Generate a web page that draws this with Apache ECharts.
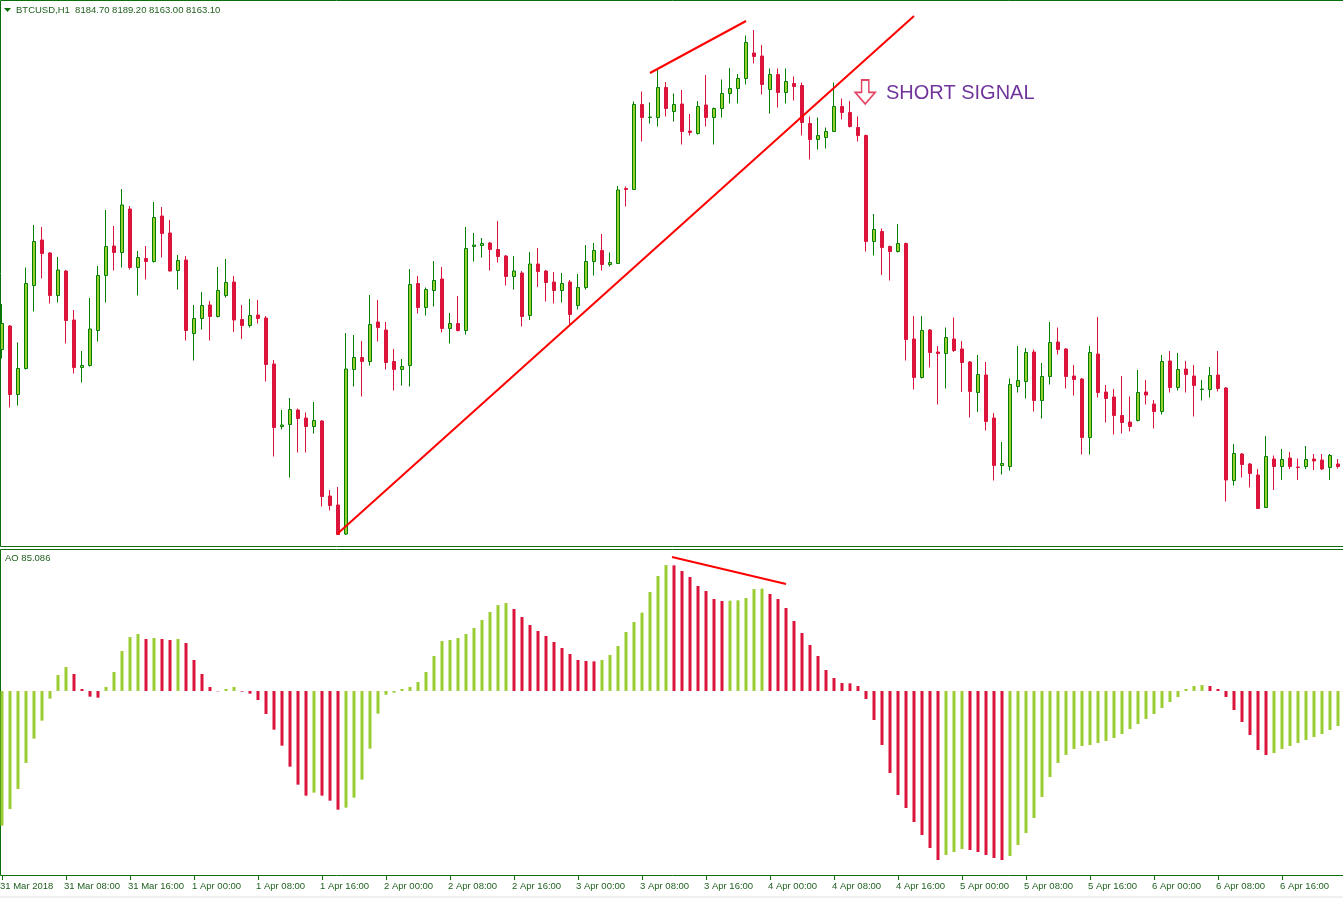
<!DOCTYPE html>
<html>
<head>
<meta charset="utf-8">
<title>BTCUSD,H1 - AO</title>
<script src="https://cdn.jsdelivr.net/npm/echarts@6/dist/echarts.min.js"></script>
<style>
    html, body { margin: 0; padding: 0; background: #fff; }
    #chart { width: 1343px; height: 898px; }
</style>
</head>
<body>
<div id="chart"></div>
<script>
// hourly bars, 31 Mar 2018 00:00 .. 6 Apr 2018 23:00
const tickLabels = ['31 Mar 2018', '31 Mar 08:00', '31 Mar 16:00', '1 Apr 00:00', '1 Apr 08:00', '1 Apr 16:00',
    '2 Apr 00:00', '2 Apr 08:00', '2 Apr 16:00', '3 Apr 00:00', '3 Apr 08:00', '3 Apr 16:00',
    '4 Apr 00:00', '4 Apr 08:00', '4 Apr 16:00', '5 Apr 00:00', '5 Apr 08:00', '5 Apr 16:00',
    '6 Apr 00:00', '6 Apr 08:00', '6 Apr 16:00']

const opens = [6881, 6928, 6791, 6843, 7009, 7100, 7074, 6989, 7038, 6940,
    6845, 6849, 6919, 7029, 7088, 7075, 7162, 7045, 7063, 7057,
    7148, 7114, 7039, 7060, 6913, 6943, 6970, 6947, 6989, 7016,
    6941, 6929, 6950, 6944, 6852, 6727, 6731, 6760, 6744, 6727,
    6738, 6588, 6570, 6512, 6841, 6865, 6857, 6936, 6920, 6857,
    6841, 6849, 7013, 6965, 6999, 7022, 6923, 6933, 6919, 7087,
    7089, 7094, 7081, 7068, 7027, 7034, 6949, 7052, 7038, 7016,
    6999, 7016, 6969, 7005, 7057, 7079, 7051, 7053, 7203, 7201,
    7371, 7345, 7345, 7405, 7357, 7372, 7318, 7313, 7370, 7345,
    7363, 7393, 7403, 7423, 7474, 7468, 7401, 7431, 7395, 7413,
    7409, 7333, 7301, 7305, 7317, 7367, 7355, 7325, 7309, 7097,
    7117, 7087, 7077, 7093, 6902, 6825, 6920, 6876, 6873, 6902,
    6882, 6856, 6795, 6830, 6744, 6649, 6647, 6807, 6817, 6876,
    6779, 6827, 6896, 6882, 6828, 6822, 6705, 6872, 6796, 6786,
    6749, 6736, 6739, 6796, 6772, 6757, 6858, 6805, 6842, 6828,
    6801, 6801, 6830, 6804, 6619, 6672, 6652, 6630, 6565, 6662,
    6647, 6664, 6646, 6647, 6662, 6660, 6645, 6652]
const closes = [6933, 6791, 6843, 7013, 7097, 7073, 6989, 7040, 6939, 6845,
    6849, 6922, 7029, 7087, 7075, 7170, 7045, 7065, 7057, 7145,
    7113, 7038, 7059, 6919, 6943, 6969, 6947, 6999, 7015, 6940,
    6929, 6949, 6943, 6851, 6725, 6730, 6761, 6743, 6727, 6739,
    6587, 6569, 6511, 6842, 6865, 6857, 6931, 6925, 6855, 6841,
    6847, 7011, 6965, 7001, 7019, 6923, 6933, 6919, 7083, 7090,
    7093, 7081, 7067, 7027, 7038, 6947, 7052, 7037, 7015, 6999,
    7013, 6951, 7005, 7057, 7079, 7051, 7055, 7200, 7201, 7371,
    7345, 7346, 7405, 7363, 7371, 7317, 7315, 7367, 7345, 7363,
    7393, 7403, 7423, 7495, 7467, 7411, 7431, 7395, 7417, 7407,
    7335, 7301, 7309, 7317, 7367, 7355, 7327, 7309, 7097, 7121,
    7085, 7077, 7093, 6901, 6825, 6919, 6875, 6873, 6905, 6879,
    6855, 6797, 6831, 6737, 6649, 6653, 6811, 6819, 6875, 6779,
    6827, 6895, 6881, 6827, 6821, 6705, 6875, 6795, 6783, 6749,
    6735, 6727, 6795, 6790, 6757, 6857, 6805, 6841, 6831, 6809,
    6802, 6829, 6803, 6620, 6673, 6651, 6633, 6563, 6667, 6647,
    6661, 6647, 6645, 6661, 6658, 6642, 6669, 6647]
const lows = [6863, 6765, 6769, 6841, 6957, 7023, 6973, 6975, 6893, 6833,
    6815, 6847, 6897, 6975, 7039, 7045, 7041, 6989, 7021, 7055,
    7065, 7037, 7001, 6899, 6859, 6921, 6899, 6945, 6985, 6916,
    6902, 6925, 6933, 6817, 6667, 6721, 6625, 6675, 6675, 6713,
    6567, 6559, 6510, 6510, 6807, 6787, 6849, 6897, 6841, 6799,
    6809, 6807, 6953, 6949, 6967, 6915, 6893, 6917, 6911, 7057,
    7065, 7039, 7055, 7009, 7001, 6927, 6940, 7006, 6977, 6973,
    6975, 6930, 6961, 7001, 7029, 7039, 7047, 7052, 7167, 7200,
    7297, 7333, 7327, 7347, 7337, 7291, 7309, 7311, 7327, 7291,
    7345, 7373, 7373, 7411, 7453, 7391, 7353, 7365, 7373, 7379,
    7309, 7261, 7281, 7283, 7316, 7341, 7325, 7297, 7077, 7069,
    7030, 7019, 7075, 6859, 6801, 6823, 6845, 6771, 6803, 6876,
    6796, 6745, 6756, 6719, 6619, 6631, 6639, 6795, 6783, 6757,
    6743, 6811, 6871, 6803, 6789, 6671, 6671, 6785, 6735, 6711,
    6713, 6717, 6737, 6771, 6723, 6751, 6795, 6799, 6795, 6747,
    6779, 6785, 6797, 6577, 6609, 6625, 6605, 6562, 6564, 6600,
    6620, 6642, 6620, 6642, 6640, 6640, 6620, 6643]
const highs = [6972, 6930, 6895, 7045, 7130, 7126, 7076, 7066, 7040, 6960,
    6878, 6984, 7048, 7160, 7128, 7202, 7168, 7078, 7088, 7176,
    7166, 7140, 7070, 7068, 6970, 6996, 6978, 7046, 7062, 7028,
    6970, 6982, 6980, 6948, 6860, 6760, 6784, 6763, 6755, 6776,
    6740, 6600, 6606, 6914, 6910, 6898, 6990, 6980, 6936, 6882,
    6862, 7042, 7028, 7005, 7058, 7046, 6954, 6988, 7126, 7114,
    7104, 7096, 7138, 7070, 7068, 7038, 7076, 7084, 7040, 7036,
    7034, 7020, 7032, 7090, 7094, 7112, 7075, 7208, 7207, 7377,
    7397, 7375, 7440, 7416, 7393, 7400, 7352, 7378, 7430, 7365,
    7421, 7444, 7432, 7509, 7520, 7490, 7443, 7443, 7443, 7427,
    7415, 7347, 7345, 7325, 7415, 7383, 7378, 7347, 7311, 7152,
    7123, 7089, 7132, 7095, 6948, 6948, 6922, 6888, 6925, 6945,
    6898, 6858, 6870, 6856, 6754, 6696, 6823, 6888, 6884, 6881,
    6854, 6936, 6925, 6884, 6850, 6824, 6888, 6946, 6810, 6802,
    6828, 6787, 6840, 6820, 6780, 6870, 6878, 6874, 6858, 6850,
    6820, 6846, 6878, 6806, 6692, 6674, 6654, 6642, 6708, 6669,
    6682, 6676, 6663, 6688, 6672, 6672, 6672, 6662]

// Awesome Oscillator, one value per bar
const aoValues = [-404, -354, -294, -216, -143, -89, -23, 48, 72, 51,
    6, -17, -20, 12, 57, 120, 162, 171, 156, 159,
    156, 153, 156, 144, 93, 51, 12, -1, 6, 12,
    -2, -8, -27, -69, -116, -164, -227, -281, -314, -305,
    -314, -329, -356, -350, -320, -266, -173, -68, -11, -5,
    6, 12, 27, 57, 105, 150, 153, 159, 171, 189,
    213, 237, 258, 264, 246, 222, 198, 180, 165, 147,
    129, 111, 93, 90, 89, 93, 108, 135, 177, 207,
    235, 297, 345, 378, 377, 360, 342, 315, 300, 276,
    270, 271, 272, 279, 306, 307, 291, 276, 249, 210,
    174, 138, 105, 63, 39, 24, 23, 15, -24, -87,
    -162, -246, -312, -351, -393, -432, -471, -507, -492, -483,
    -474, -477, -483, -492, -501, -507, -495, -462, -426, -381,
    -318, -258, -216, -192, -174, -165, -162, -156, -150, -141,
    -129, -114, -99, -84, -69, -51, -33, -18, 6, 15,
    18, 15, 6, -18, -57, -93, -132, -177, -192, -186,
    -174, -165, -156, -147, -138, -129, -117, -105]

// drawn objects: [bar index, value]
const trendLine = [[41.9, 6512], [114, 7548]]
const priceTopLine = [[81, 7434], [93, 7538]]
const aoTopLine = [[83.75, 402], [98, 321]]
const signalArrow = [107.9, 7396]
const signalText = [110.5, 7393]

const symbolName = 'BTCUSD,H1'
const lastQuote = ['8184.70', '8189.20', '8163.00', '8163.10']
const aoLabel = 'AO 85.086'

const UP_FILL = '#9ACD32'
const UP_LINE = '#008000'
const DOWN = '#DC143C'
const FRAME = '#0B6E0B'
const TEXT = '#1E5E1E'

const categories = opens.map((v, i) => {
    const d = 31 + Math.floor(i / 24)
    return (d > 31 ? (d - 31) + ' Apr ' : '31 Mar ') + String(i % 24).padStart(2, '0') + ':00'
})
const candleData = opens.map((o, i) => [o, closes[i], lows[i], highs[i]])
const aoData = aoValues.map((v, i) => ({
    value: v,
    itemStyle: { color: (i === 0 || v > aoValues[i - 1]) ? UP_FILL : DOWN }
}))

const chart = echarts.init(document.getElementById('chart'), null, { renderer: 'canvas' })

chart.setOption({
    animation: false,
    backgroundColor: '#ffffff',
    textStyle: { fontFamily: 'Liberation Sans, Arial, sans-serif' },
    grid: [
        { left: -2, width: 1344, top: 0, height: 546, outerBoundsMode: 'none', containLabel: false },
        { left: -2, width: 1344, top: 549, height: 327, outerBoundsMode: 'none', containLabel: false }
    ],
    xAxis: [
        {
            type: 'category', gridIndex: 0, data: categories, boundaryGap: true,
            axisLine: { show: false, onZero: false }, axisTick: { show: false }, axisLabel: { show: false },
            splitLine: { show: false }
        },
        {
            type: 'category', gridIndex: 1, data: categories, boundaryGap: true,
            position: 'bottom',
            axisLine: { show: false, onZero: false },
            axisTick: {
                show: true, alignWithLabel: true, interval: 7, length: 4,
                lineStyle: { color: FRAME }
            },
            axisLabel: {
                show: true, interval: 7, align: 'left', margin: 5,
                padding: [0, 0, 0, -2],
                color: TEXT, fontSize: 9.5, fontFamily: 'Liberation Sans',
                formatter: (val, idx) => tickLabels[idx / 8] || ''
            },
            splitLine: { show: false }
        },
        { type: 'value', gridIndex: 0, min: -0.5, max: 167.5, show: false },
        { type: 'value', gridIndex: 1, min: -0.5, max: 167.5, show: false }
    ],
    yAxis: [
        { type: 'value', gridIndex: 0, min: 6488, max: 7580, show: false, splitLine: { show: false } },
        { type: 'value', gridIndex: 1, min: -555, max: 426, show: false, splitLine: { show: false } }
    ],
    series: [
        {
            name: 'BTCUSD',
            type: 'candlestick',
            xAxisIndex: 0, yAxisIndex: 0,
            barWidth: 4,
            data: candleData,
            itemStyle: {
                color: UP_FILL, color0: DOWN,
                borderColor: UP_LINE, borderColor0: DOWN,
                borderWidth: 1
            }
        },
        {
            name: 'AO',
            type: 'bar',
            xAxisIndex: 1, yAxisIndex: 1,
            barWidth: 3,
            data: aoData
        },
        {
            name: 'trend', type: 'line', xAxisIndex: 2, yAxisIndex: 0,
            data: trendLine, symbol: 'none',
            lineStyle: { color: '#FF0000', width: 2 }
        },
        {
            name: 'highs', type: 'line', xAxisIndex: 2, yAxisIndex: 0,
            data: priceTopLine, symbol: 'none',
            lineStyle: { color: '#FF0000', width: 2 }
        },
        {
            name: 'aoHighs', type: 'line', xAxisIndex: 3, yAxisIndex: 1,
            data: aoTopLine, symbol: 'none',
            lineStyle: { color: '#FF0000', width: 2 }
        },
        {
            name: 'arrow', type: 'scatter', xAxisIndex: 2, yAxisIndex: 0,
            data: [signalArrow],
            symbol: 'path://M7,0 L15,0 L15,13 L22,13 L11,25 L0,13 L7,13 Z',
            symbolSize: [20, 24],
            itemStyle: { color: '#ffffff', borderColor: DOWN, borderWidth: 1.6 }
        },
        {
            name: 'signal', type: 'scatter', xAxisIndex: 2, yAxisIndex: 0,
            data: [signalText], symbolSize: 0,
            label: {
                show: true, position: 'right', distance: 0,
                formatter: 'SHORT SIGNAL',
                color: '#4B0082', fontSize: 20, fontFamily: 'Liberation Sans'
            }
        }
    ],
    graphic: [
        { type: 'rect', silent: true, shape: { x: 0.5, y: 0.5, width: 1350, height: 546 },
          style: { fill: null, stroke: FRAME, lineWidth: 1 } },
        { type: 'rect', silent: true, shape: { x: 0.5, y: 549.5, width: 1350, height: 326 },
          style: { fill: null, stroke: FRAME, lineWidth: 1 } },
        { type: 'rect', silent: true, shape: { x: 0, y: 896, width: 1343, height: 2 },
          style: { fill: '#F0F0F0' } },
        { type: 'polygon', silent: true, shape: { points: [[4, 8], [11, 8], [7.5, 12]] },
          style: { fill: '#0B6E0B' } },
        { type: 'text', silent: true, left: 16, top: 5,
          style: { text: symbolName + '  ' + lastQuote.join(' '), fill: TEXT, font: '9.5px Liberation Sans' } },
        { type: 'text', silent: true, left: 5, top: 553,
          style: { text: aoLabel, fill: TEXT, font: '9.5px Liberation Sans' } }
    ]
})
</script>
</body>
</html>
